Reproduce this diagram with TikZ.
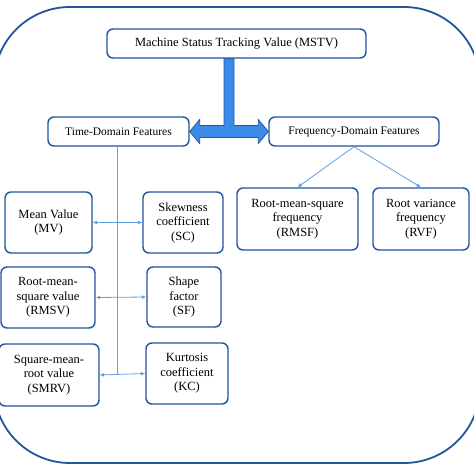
\documentclass[tikz,border=0pt]{standalone}
\usepackage{fontspec}
\setmainfont{Liberation Serif}
\usetikzlibrary{calc,arrows.meta}
\definecolor{boxblue}{RGB}{34,84,160}
\definecolor{lineblue}{RGB}{96,160,220}
\definecolor{fatblue}{RGB}{58,140,232}
\tikzset{
  featbox/.style={draw=boxblue,line width=1.4pt,rounded corners=6pt,fill=white,
    align=center,inner sep=2pt,font=\fontsize{12.5}{14.5}\selectfont},
  thin/.style={draw=lineblue,line width=0.8pt},
  tip/.style={-{Latex[length=4.5pt,width=4pt]}},
  twotip/.style={{Latex[length=4.5pt,width=4pt]}-{Latex[length=4.5pt,width=4pt]}}
}
\begin{document}
\begin{tikzpicture}[x=1pt,y=-1pt]
\clip (0,0) rectangle (474,474);
% Moldura
\draw[boxblue,line width=1.8pt,rounded corners=76pt] (-6,7) rectangle (480,463);
% Caixas de topo
\node[featbox,minimum width=259pt,minimum height=29pt] (mstv) at (236.5,43.5) {Machine Status Tracking Value (MSTV)};
\node[featbox,minimum width=141pt,minimum height=29pt,font=\fontsize{11.5}{13}\selectfont] (tdf) at (118.5,131.5) {Time-Domain Features};
\node[featbox,minimum width=170pt,minimum height=29pt,font=\fontsize{11.5}{13}\selectfont] (fdf) at (354,131.5) {Frequency-Domain Features};
% Dominio do tempo
\node[featbox,minimum width=87pt,minimum height=61pt] (mv) at (48.5,222.5) {Mean Value\\(MV)};
\node[featbox,minimum width=80pt,minimum height=61pt] (sc) at (183,222.5) {Skewness\\coefficient\\(SC)};
\node[featbox,minimum width=94pt,minimum height=61pt] (rmsv) at (48,297.5) {Root-mean-\\square value\\(RMSV)};
\node[featbox,minimum width=74pt,minimum height=60pt] (sf) at (184,297) {Shape\\factor\\(SF)};
\node[featbox,minimum width=100pt,minimum height=62pt] (smrv) at (49,375) {Square-mean-\\root value\\(SMRV)};
\node[featbox,minimum width=82pt,minimum height=61pt] (kc) at (187,373.5) {Kurtosis\\coefficient\\(KC)};
% Dominio da frequencia
\node[featbox,minimum width=121pt,minimum height=62pt] (rmsf) at (297.5,219) {Root-mean-square\\frequency\\(RMSF)};
\node[featbox,minimum width=96pt,minimum height=62pt] (rvf) at (421,219) {Root variance\\frequency\\(RVF)};
% Seta grossa
\coordinate (mid) at ($(tdf.east)!0.5!(fdf.west)$);
\filldraw[fill=fatblue,draw=boxblue,line width=0.8pt,line join=miter]
  (tdf.east) -- ++(10,-12) -- ++(0,6) -- ($(mid)+(-5,-6)$)
  -- ($(mid |- mstv.south)+(-5,0)$) -- ($(mid |- mstv.south)+(5,0)$)
  -- ($(mid)+(5,-6)$) -- ($(fdf.west)+(-10,-6)$) -- ++(0,-6)
  -- (fdf.west) -- ++(-10,12) -- ++(0,-6) -- ($(tdf.east)+(10,6)$) -- ++(0,6) -- cycle;
% Linhas finas
\coordinate (trunk) at ($(tdf.south)+(-1.5,0)$);
\draw[thin] (trunk) -- (trunk |- kc.west);
\draw[thin,twotip] (mv.east) -- (sc.west);
\draw[thin,twotip] (rmsv.east) -- (sf.west);
\draw[thin,twotip] (smrv.east) -- (kc.west);
\draw[thin,tip] (fdf.south) -- (rmsf.north);
\draw[thin,tip] (fdf.south) -- (rvf.north);
\end{tikzpicture}
\end{document}
